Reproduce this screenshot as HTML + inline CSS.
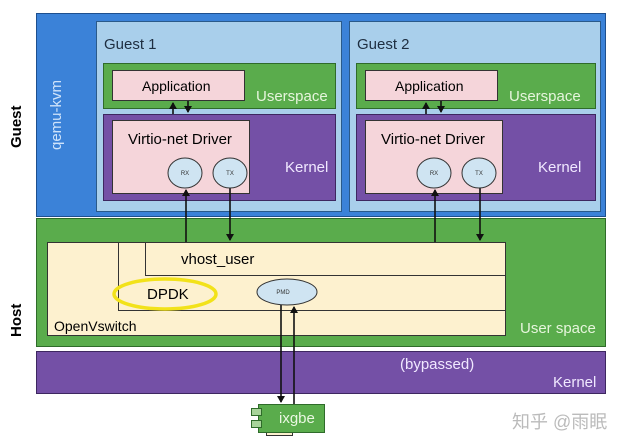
<!DOCTYPE html>
<html><head><style>
body{margin:0;width:624px;height:444px;background:#fff;position:relative;overflow:hidden;font-family:"Liberation Sans","Noto Sans CJK SC",sans-serif}
.a{position:absolute;box-sizing:border-box}
.t{position:absolute;white-space:nowrap}
</style></head><body>
<div class="a" style="left:36px;top:13px;width:570px;height:204px;background:#3b82d8;border:1px solid #1d4f8f"></div>
<div class="t" style="left:8px;top:148px;transform:rotate(-90deg);transform-origin:left top;font-weight:bold;font-size:15px">Guest</div>
<div class="t" style="left:48px;top:150px;transform:rotate(-90deg);transform-origin:left top;color:#cfe3fa;font-size:15px">qemu-kvm</div>

<!-- Guest 1 -->
<div class="a" style="left:96px;top:21px;width:246px;height:191px;background:#a9cfeb;border:1px solid #2a5a8a"></div>
<div class="t" style="left:104px;top:36px;font-size:15px;color:#1e2e40">Guest 1</div>
<div class="a" style="left:103px;top:63px;width:233px;height:46px;background:#5aac4c;border:1px solid #2f6b2a"></div>
<div class="t" style="left:256px;top:88px;font-size:15px;color:#e6f5dc">Userspace</div>
<div class="a" style="left:112px;top:70px;width:133px;height:31px;background:#f5d5da;border:1px solid #333"></div>
<div class="t" style="left:142px;top:78px;font-size:14px">Application</div>
<div class="a" style="left:103px;top:114px;width:233px;height:87px;background:#7450a6;border:1px solid #3d2760"></div>
<div class="t" style="left:285px;top:159px;font-size:15px;color:#f0e8ff">Kernel</div>
<div class="a" style="left:112px;top:120px;width:138px;height:74px;background:#f5d5da;border:1px solid #333"></div>
<div class="t" style="left:128px;top:131px;font-size:15px">Virtio-net Driver</div>

<!-- Guest 2 -->
<div class="a" style="left:349px;top:21px;width:252px;height:191px;background:#a9cfeb;border:1px solid #2a5a8a"></div>
<div class="t" style="left:357px;top:36px;font-size:15px;color:#1e2e40">Guest 2</div>
<div class="a" style="left:356px;top:63px;width:240px;height:46px;background:#5aac4c;border:1px solid #2f6b2a"></div>
<div class="t" style="left:509px;top:88px;font-size:15px;color:#e6f5dc">Userspace</div>
<div class="a" style="left:365px;top:70px;width:133px;height:31px;background:#f5d5da;border:1px solid #333"></div>
<div class="t" style="left:395px;top:78px;font-size:14px">Application</div>
<div class="a" style="left:356px;top:114px;width:240px;height:87px;background:#7450a6;border:1px solid #3d2760"></div>
<div class="t" style="left:538px;top:159px;font-size:15px;color:#f0e8ff">Kernel</div>
<div class="a" style="left:365px;top:120px;width:138px;height:74px;background:#f5d5da;border:1px solid #333"></div>
<div class="t" style="left:381px;top:131px;font-size:15px">Virtio-net Driver</div>

<!-- Host -->
<div class="a" style="left:36px;top:218px;width:570px;height:129px;background:#5aac4c;border:1px solid #2f6b2a"></div>
<div class="t" style="left:8px;top:337px;transform:rotate(-90deg);transform-origin:left top;font-weight:bold;font-size:15px">Host</div>
<div class="t" style="left:520px;top:320px;font-size:15px;color:#e6f5dc">User space</div>
<div class="a" style="left:47px;top:242px;width:459px;height:94px;background:#fdf1cf;border:1px solid #333"></div>
<div class="t" style="left:54px;top:318px;font-size:14px">OpenVswitch</div>
<div class="a" style="left:118px;top:242px;width:1px;height:68px;background:#333"></div>
<div class="a" style="left:145px;top:242px;width:1px;height:33px;background:#333"></div>
<div class="a" style="left:145px;top:275px;width:361px;height:1px;background:#333"></div>
<div class="a" style="left:118px;top:310px;width:388px;height:1px;background:#333"></div>
<div class="t" style="left:181px;top:251px;font-size:15px">vhost_user</div>
<div class="t" style="left:147px;top:286px;font-size:15px">DPDK</div>

<div class="a" style="left:36px;top:351px;width:570px;height:43px;background:#7450a6;border:1px solid #3d2760"></div>
<div class="t" style="left:400px;top:356px;font-size:15px;color:#f0e8ff">(bypassed)</div>
<div class="t" style="left:553px;top:374px;font-size:15px;color:#f0e8ff">Kernel</div>

<!-- ixgbe -->
<div class="a" style="left:266px;top:431px;width:27px;height:5px;background:#fdf1cf;border:1px solid #333"></div>
<div class="a" style="left:258px;top:404px;width:67px;height:29px;background:#5aac4c;border:1px solid #2f6b2a"></div>
<div class="a" style="left:251px;top:408px;width:11px;height:8px;background:#a8d49a;border:1px solid #2f6b2a"></div>
<div class="a" style="left:251px;top:420px;width:11px;height:8px;background:#a8d49a;border:1px solid #2f6b2a"></div>
<div class="t" style="left:279px;top:410px;font-size:15px;color:#eaf7e2">ixgbe</div>
<div class="t" style="left:512px;top:408px;font-size:18px;color:#bbb">知乎 @雨眠</div>

<svg class="a" style="left:0;top:0" width="624" height="444">
<defs><marker id="m" markerWidth="8" markerHeight="8" refX="6" refY="4" orient="auto" markerUnits="userSpaceOnUse"><path d="M0,0 L7,4 L0,8z" fill="#111"/></marker></defs>
<g stroke="#111" stroke-width="1.6" fill="none">
<line x1="173" y1="114" x2="173" y2="103" marker-end="url(#m)"/>
<line x1="188" y1="101" x2="188" y2="112" marker-end="url(#m)"/>
<line x1="426" y1="114" x2="426" y2="103" marker-end="url(#m)"/>
<line x1="441" y1="101" x2="441" y2="112" marker-end="url(#m)"/>
<line x1="186" y1="242" x2="186" y2="190" marker-end="url(#m)"/>
<line x1="230" y1="188" x2="230" y2="240" marker-end="url(#m)"/>
<line x1="435" y1="242" x2="435" y2="190" marker-end="url(#m)"/>
<line x1="480" y1="188" x2="480" y2="240" marker-end="url(#m)"/>
<line x1="281" y1="304" x2="281" y2="402" marker-end="url(#m)"/>
<line x1="294" y1="404" x2="294" y2="307" marker-end="url(#m)"/>
</g>
<g stroke="#333" stroke-width="1" fill="#cfe4f2">
<ellipse cx="185" cy="173" rx="17" ry="15"/><ellipse cx="230" cy="173" rx="17" ry="15"/>
<ellipse cx="434" cy="173" rx="17" ry="15"/><ellipse cx="479" cy="173" rx="17" ry="15"/>
<ellipse cx="287" cy="292" rx="30" ry="13"/>
</g>
<g font-family="Liberation Sans" font-size="6" fill="#333" text-anchor="middle">
<text x="185" y="175">RX</text><text x="230" y="175">TX</text>
<text x="434" y="175">RX</text><text x="479" y="175">TX</text>
<text x="283" y="294">PMD</text>
</g>
<ellipse cx="165" cy="294" rx="51" ry="15" fill="none" stroke="#f2e21a" stroke-width="3.5"/>
</svg>
</body></html>
